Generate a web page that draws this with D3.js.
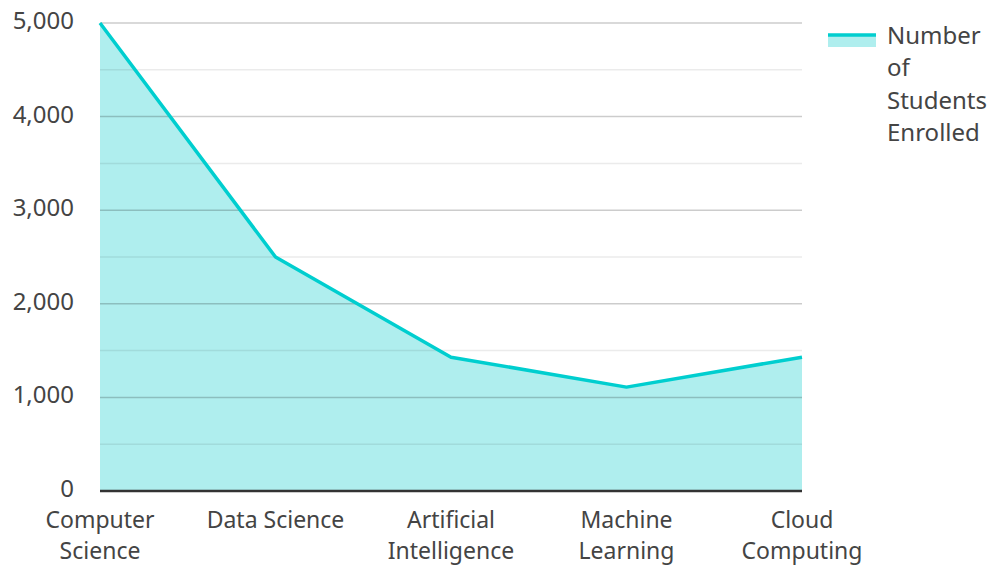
<!DOCTYPE html>
<html>
<head>
<meta charset="utf-8">
<script src="https://cdn.jsdelivr.net/npm/d3@7"></script>
<style>
  body { margin: 0; background: #fff; }
  text { font-family: "Noto Sans", "Open Sans", sans-serif; fill: #444; }
</style>
</head>
<body>
<div id="chart"></div>
<script>
// data
var courses = ["Computer Science", "Data Science", "Artificial Intelligence", "Machine Learning", "Cloud Computing"];
var courseLines = [["Computer", "Science"], ["Data Science"], ["Artificial", "Intelligence"], ["Machine", "Learning"], ["Cloud", "Computing"]];
var enrolled = [5000, 2500, 1430, 1110, 1430];
var yTicks = [0, 1000, 2000, 3000, 4000, 5000];
var yMinor = [500, 1500, 2500, 3500, 4500];
var seriesName = ["Number", "of", "Students", "Enrolled"];

var width = 992, height = 566;
var svg = d3.select("#chart").append("svg")
  .attr("width", width).attr("height", height);

var x = d3.scalePoint().domain(courses).range([100, 802]);
var y = d3.scaleLinear().domain([0, 5000]).range([491, 23]);

var data = courses.map((c, i) => ({ c: c, v: enrolled[i] }));

// area
svg.append("path").datum(data)
  .attr("d", d3.area().x(d => x(d.c)).y0(y(0)).y1(d => y(d.v)))
  .style("fill", "#afeeee");

// grid (on top of the fill so it shows through)
svg.append("g").selectAll("line").data(yMinor).enter().append("line")
  .attr("x1", 100).attr("x2", 802)
  .attr("y1", d => y(d)).attr("y2", d => y(d))
  .style("stroke", "#000").style("stroke-opacity", 0.08).attr("stroke-width", 1.5);
svg.append("g").selectAll("line").data(yTicks.slice(1)).enter().append("line")
  .attr("x1", 100).attr("x2", 802)
  .attr("y1", d => y(d)).attr("y2", d => y(d))
  .style("stroke", "#000").style("stroke-opacity", 0.2).attr("stroke-width", 1.5);

// line
svg.append("path").datum(data)
  .attr("d", d3.line().x(d => x(d.c)).y(d => y(d.v)))
  .style("fill", "none").style("stroke", "#00cecf")
  .attr("stroke-width", 3.5).attr("stroke-linejoin", "round");

// baseline
svg.append("line").attr("x1", 100).attr("x2", 802)
  .attr("y1", y(0)).attr("y2", y(0))
  .style("stroke", "#333").attr("stroke-width", 2.5);

// y labels
svg.append("g").selectAll("text").data(yTicks).enter().append("text")
  .attr("x", 74).attr("y", d => y(d))
  .attr("dy", "0.25em").attr("text-anchor", "end")
  .style("font-size", "24px")
  .text(d => d3.format(",")(d));

// x labels
var xl = svg.append("g").selectAll("text").data(courses).enter().append("text")
  .attr("text-anchor", "middle").style("font-size", "23px")
  .attr("transform", d => `translate(${x(d)},528)`);
xl.selectAll("tspan").data((d, i) => courseLines[i]).enter().append("tspan")
  .attr("x", 0).attr("dy", (d, i) => i === 0 ? 0 : 31)
  .text(d => d);

// legend
var lg = svg.append("g").attr("transform", "translate(828,35)");
lg.append("rect").attr("x", 0).attr("y", 1).attr("width", 48).attr("height", 11)
  .style("fill", "#afeeee");
lg.append("line").attr("x1", 0).attr("x2", 48).attr("y1", 0).attr("y2", 0)
  .style("stroke", "#00cecf").attr("stroke-width", 3.5);
lg.append("text").attr("x", 59).attr("y", 9).style("font-size", "24px")
  .selectAll("tspan").data(seriesName).enter().append("tspan")
  .attr("x", 59).attr("dy", (d, i) => i === 0 ? 0 : 32.3)
  .text(d => d);
</script>
</body>
</html>
